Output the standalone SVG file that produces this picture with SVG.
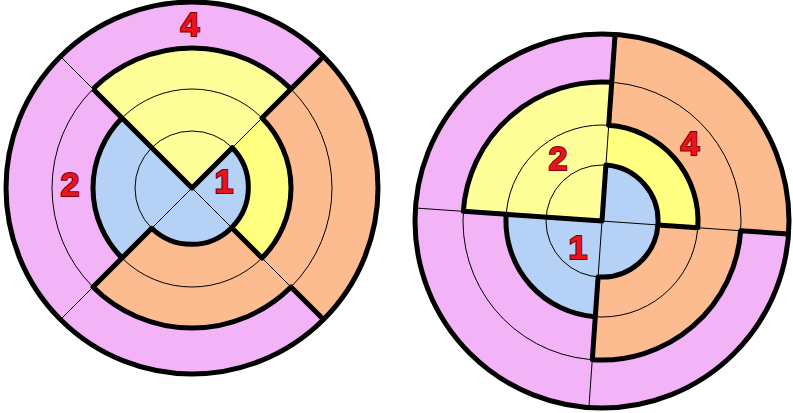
<svg xmlns="http://www.w3.org/2000/svg" width="793" height="413" viewBox="0 0 793 413">
<style>
.pu{fill:#f2b3f7}.ye{fill:#ffff99}.yb{fill:#ffff80}.or{fill:#fcbc90}.bl{fill:#b5d1f5}
.thin{fill:none;stroke:#000;stroke-width:1}
.bold{fill:none;stroke:#000;stroke-width:5;stroke-linejoin:round}
.lbl{font-family:"Liberation Sans",Arial,sans-serif;font-weight:bold;font-size:34px;fill:#e8141e;stroke:#7a0000;stroke-width:2;paint-order:stroke;text-anchor:middle}
</style>
<rect width="793" height="413" fill="#fff"/>
<g id="left">
<circle class="pu" cx="192" cy="188" r="186"/>
<path class="ye" d="M192,188 L93,89 A140,140 0 0 1 291,89 Z"/>
<path class="or" d="M192,188 L323.5,56.5 A186,186 0 0 1 323.5,319.5 Z"/>
<path class="or" d="M192,188 L291,287 A140,140 0 0 1 93,287 Z"/>
<path class="bl" d="M192,188 L122,258 A99,99 0 0 1 122,118 Z"/>
<path class="yb" d="M192,188 L262,118 A99,99 0 0 1 262,258 Z"/>
<path class="bl" d="M192,188 L232.3,147.7 A57,57 0 1 1 151.7,147.7 Z"/>
<circle class="thin" cx="192" cy="188" r="57"/>
<circle class="thin" cx="192" cy="188" r="99"/>
<circle class="thin" cx="192" cy="188" r="140"/>
<path class="thin" d="M60.5,56.5 L323.5,319.5 M323.5,56.5 L60.5,319.5"/>
<circle class="bold" cx="192" cy="188" r="186"/>
<path class="bold" d="M93,89 A140,140 0 0 1 291,89"/>
<path class="bold" d="M323.5,56.5 L262,118 A99,99 0 0 1 262,258 L232.3,228.3"/>
<path class="bold" d="M93,89 L192,188 L232.3,147.7 A57,57 0 0 1 151.7,228.3 L93,287 A140,140 0 0 0 291,287 L323.5,319.5"/>
<path class="bold" d="M122,258 A99,99 0 0 1 122,118"/>
<text class="lbl" x="190" y="36">4</text>
<text class="lbl" x="70" y="196">2</text>
<text class="lbl" x="224" y="193">1</text>
</g>
<g id="right">
<circle class="pu" cx="602" cy="221" r="187"/>
<path class="or" d="M602,221 L615.1,34.4 A187,187 0 0 1 788.6,234.1 Z"/>
<path class="ye" d="M602,221 L463.3,211.3 A139,139 0 0 1 611.7,82.3 Z"/>
<path class="or" d="M602,221 L740.7,230.7 A139,139 0 0 1 592.3,359.7 Z"/>
<path class="yb" d="M602,221 L608.7,125.2 A96,96 0 0 1 697.8,227.7 Z"/>
<path class="bl" d="M602,221 L595.3,316.8 A96,96 0 0 1 506.2,214.3 Z"/>
<path class="bl" d="M602,221 L605.9,165.1 A56,56 0 1 1 546.1,217.1 Z"/>
<circle class="thin" cx="602" cy="221" r="56"/>
<circle class="thin" cx="602" cy="221" r="96"/>
<circle class="thin" cx="602" cy="221" r="139"/>
<path class="thin" d="M615.1,34.4 L588.9,407.6 M415.4,208 L788.6,234.1"/>
<circle class="bold" cx="602" cy="221" r="187"/>
<path class="bold" d="M615.1,34.4 L608.7,125.2 A96,96 0 0 1 697.8,227.7 L657.9,224.9"/>
<path class="bold" d="M788.6,234.1 L740.7,230.7 A139,139 0 0 1 592.3,359.7 L598.1,276.9 A56,56 0 0 0 605.9,165.1 L602,221 L463.3,211.3 A139,139 0 0 1 611.7,82.3"/>
<path class="bold" d="M595.3,316.8 A96,96 0 0 1 506.2,214.3"/>
<text class="lbl" x="558" y="170">2</text>
<text class="lbl" x="690" y="155">4</text>
<text class="lbl" x="578" y="259">1</text>
</g>
</svg>
